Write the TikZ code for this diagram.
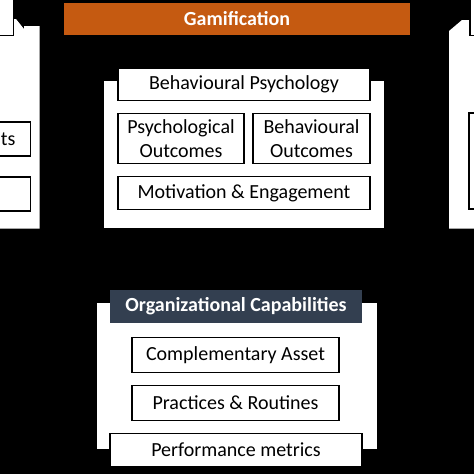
\documentclass[tikz,border=0pt]{standalone}
\usepackage{fontspec}
\setmainfont{Carlito}
\definecolor{gamorange}{HTML}{C55A11}
\definecolor{slate}{HTML}{333F50}
\begin{document}
\begin{tikzpicture}[x=1pt,y=-1pt,
  panel/.style={fill=white,draw=none},
  wbox/.style={draw=black,fill=white,line width=1.3pt,inner sep=0pt,align=center,
    font=\fontsize{20}{24}\selectfont,text=black},
  banner/.style={inner sep=0pt,align=center,text=white,
    font=\fontsize{20}{24}\selectfont\bfseries}]
\useasboundingbox (0,0) rectangle (474,474);
\clip (0,0) rectangle (474,474);
\fill[black] (0,0) rectangle (474,474);
% top banner
\node[banner,fill=gamorange,minimum width=346pt,minimum height=32pt] (gam) at (237,19) {Gamification};
% left panel (cropped)
\fill[white] (-2,35) -- (-2,228.5) -- (39.5,228.5) -- (39.5,26) -- (24,26) -- (24,29) -- (16,19) -- (13,19) -- cycle;
\node[wbox,minimum width=17pt,minimum height=39pt] (ltitle) at (5,16) {};
\node[wbox,minimum width=35pt,minimum height=34pt] (lbox1) at (13,139) {};
\node[wbox,anchor=east,draw=none,fill=none] (ltext) at (16,139) {ts};
\node[wbox,minimum width=35pt,minimum height=34pt] (lbox2) at (13,194) {};
% right panel (cropped)
\fill[white] (449,31) -- (449,228.5) -- (476,228.5) -- (476,20) -- (462,20) -- cycle;
\node[wbox,minimum width=10pt,minimum height=39pt] (rtitle) at (475,16) {};
\node[wbox,minimum width=10pt,minimum height=96pt] (rbox) at (474,161) {};
% middle panel
\node[panel,minimum width=280pt,minimum height=147pt,inner sep=0pt] (midpanel) at (244,154.5) {};
\node[wbox,minimum width=252pt,minimum height=32pt] (bpsy) at (244,84.5) {Behavioural Psychology};
\node[wbox,minimum width=126pt,minimum height=50pt] (psyout) at (181,138.5) {Psychological\\Outcomes};
\node[wbox,minimum width=117pt,minimum height=50pt] (behout) at (311.5,138.5) {Behavioural\\Outcomes};
\node[wbox,minimum width=252pt,minimum height=33pt] (motiv) at (244,193) {Motivation \& Engagement};
% bottom panel
\node[panel,minimum width=280pt,minimum height=146pt,inner sep=0pt] (botpanel) at (237,376) {};
\node[banner,fill=slate,minimum width=252pt,minimum height=33pt] (orgcap) at (236,306) {Organizational Capabilities};
\node[wbox,minimum width=207pt,minimum height=35pt] (comp) at (235.5,355) {Complementary Asset};
\node[wbox,minimum width=207pt,minimum height=35pt] (pract) at (235.5,403) {Practices \& Routines};
\node[wbox,minimum width=252pt,minimum height=33pt] (perf) at (236,450) {Performance metrics};
\end{tikzpicture}
\end{document}
